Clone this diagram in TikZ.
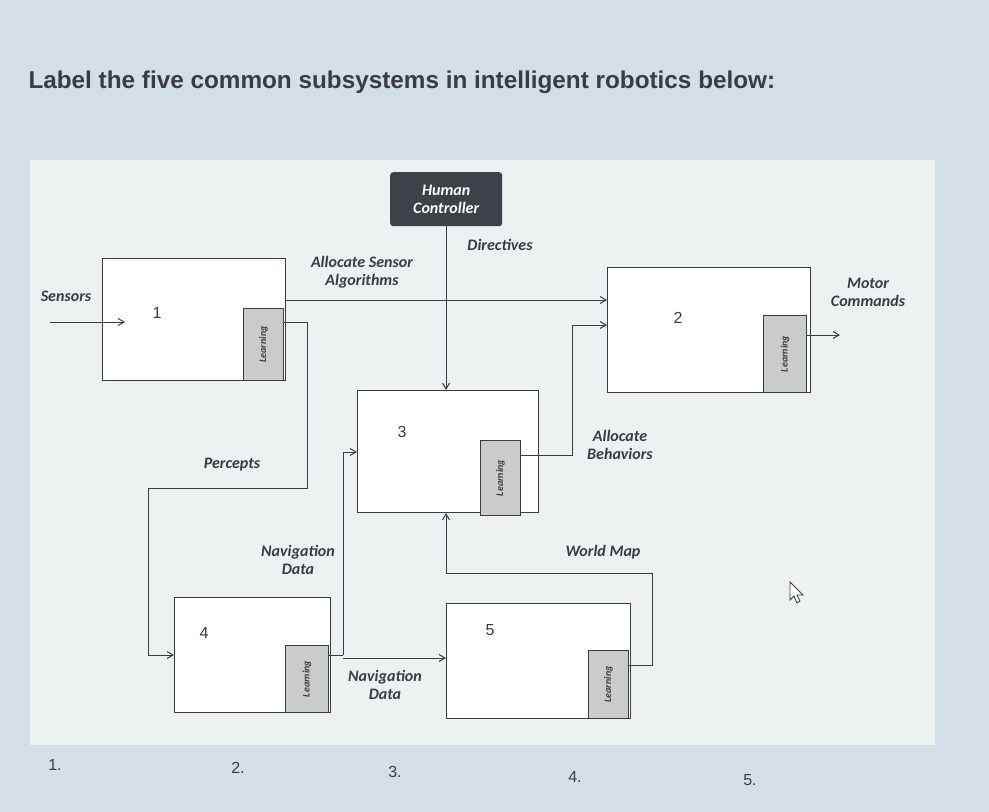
\documentclass[tikz,border=0pt]{standalone}
\usepackage{fontspec}
\setmainfont{Liberation Sans}
\newfontfamily\diag{Carlito}
\usetikzlibrary{arrows.meta}
\definecolor{bgc}{HTML}{D3DEE6}
\definecolor{panel}{HTML}{EEF1F2}
\definecolor{hcfill}{HTML}{3C4247}
\definecolor{strip}{HTML}{C9CCCB}
\definecolor{ink}{HTML}{3A3D40}
\begin{document}
\begin{tikzpicture}[x=1pt,y=-1pt,
  sbox/.style={draw=ink,line width=1pt,fill=white,anchor=north west,inner sep=0pt},
  lstrip/.style={draw=ink,line width=0.8pt,fill=strip,anchor=north west,inner sep=0pt},
  lbl/.style={font=\diag\bfseries\itshape\fontsize{16}{18}\selectfont,text=ink,align=center},
  num/.style={font=\fontsize{16}{18}\selectfont,text=ink},
  conn/.style={draw=ink,line width=1pt,-{Straight Barb[length=6pt,width=7pt]}},
  plain/.style={draw=ink,line width=1pt}]
\useasboundingbox (0,0) rectangle (989,812);
\fill[bgc] (0,0) rectangle (989,812);
\fill[panel] (30,160) rectangle (935,745);
\node[anchor=west,font=\bfseries\fontsize{24.3}{28}\selectfont,text=ink] (title) at (25,82) {Label the five common subsystems in intelligent robotics below:};
% Human controller
\node[anchor=north west,fill=hcfill,rounded corners=3pt,minimum width=112pt,minimum height=54pt,inner sep=0pt,
  font=\diag\bfseries\itshape\fontsize{16}{18}\selectfont,text=white,align=center] (hc) at (390,172) {Human\\Controller};
% boxes
\node[sbox,minimum width=183pt,minimum height=122pt] (b1) at (102,258) {};
\node[lstrip,minimum width=40pt,minimum height=72pt] (l1) at (243,308) {};
\node[sbox,minimum width=203pt,minimum height=125pt] (b2) at (607,267) {};
\node[lstrip,minimum width=43pt,minimum height=77pt] (l2) at (763,315) {};
\node[sbox,minimum width=181pt,minimum height=122pt] (b3) at (357,390) {};
\node[lstrip,minimum width=40pt,minimum height=75pt] (l3) at (480,440) {};
\node[sbox,minimum width=156pt,minimum height=115pt] (b4) at (174,597) {};
\node[lstrip,minimum width=43pt,minimum height=67pt] (l4) at (285,645) {};
\node[sbox,minimum width=184pt,minimum height=115pt] (b5) at (446,603) {};
\node[lstrip,minimum width=40pt,minimum height=68pt] (l5) at (588,650) {};
\foreach \s in {l1,l2,l3,l4,l5}{\node[rotate=90,font=\diag\bfseries\itshape\fontsize{10}{12}\selectfont,text=ink] at (\s.center) {Learning};}
\node[num] (n1) at (157,313) {1};
\node[num] (n2) at (678,318) {2};
\node[num] (n3) at (402,432) {3};
\node[num] (n4) at (204,633) {4};
\node[num] (n5) at (490,630) {5};
% connectors
\coordinate (sin) at (50,322);
\draw[conn] (sin) -- (125,322);
\node[lbl] (lsens) at (66,296) {Sensors};
\draw[conn] (b1.east |- 0,300) -- (b2.west |- 0,300);
\node[lbl] (lasa) at (362,272) {Allocate Sensor\\Algorithms};
\draw[conn] (hc.south -| 446,0) -- (446,390);
\node[lbl] (ldir) at (500,245) {Directives};
\coordinate (mc) at (840,335);
\draw[conn] (l2.east |- mc) -- (mc);
\node[lbl] (lmc) at (868,292) {Motor\\Commands};
\draw[conn] (l1.east |- 0,322) -- (307,322) -- (307,488) -- (148,488) -- (148,655) -- (b4.west |- 0,655);
\node[lbl] (lper) at (232,465) {Percepts};
\draw[plain] (l4.east |- 0,655) -- (343,655);
\draw[conn] (343,655) -- (343,452) -- (b3.west |- 0,452);
\draw[conn] (343,658) -- (b5.west |- 0,658);
\node[lbl] (lnd1) at (298,560) {Navigation\\Data};
\node[lbl] (lnd2) at (385,685) {Navigation\\Data};
\draw[conn] (l3.east |- 0,455) -- (572,455) -- (572,325) -- (b2.west |- 0,325);
\node[lbl] (lab) at (620,445) {Allocate\\Behaviors};
\draw[conn] (l5.east |- 0,665) -- (652,665) -- (652,573) -- (446,573) -- (b3.south -| 446,0);
\node[lbl] (lwm) at (603,552) {World Map};
% cursor
\draw[ink,line width=0.8pt,fill=white] (790,582) -- (790,600) -- (794,596) -- (797,603) -- (800,601) -- (797,595) -- (803,595) -- cycle;
% answer numbers
\foreach \t/\x/\y in {1./55/765,2./238/768,3./395/772,4./575/777,5./750/780}{\node[font=\fontsize{16}{18}\selectfont,text=ink] at (\x,\y) {\t};}
\end{tikzpicture}
\end{document}
